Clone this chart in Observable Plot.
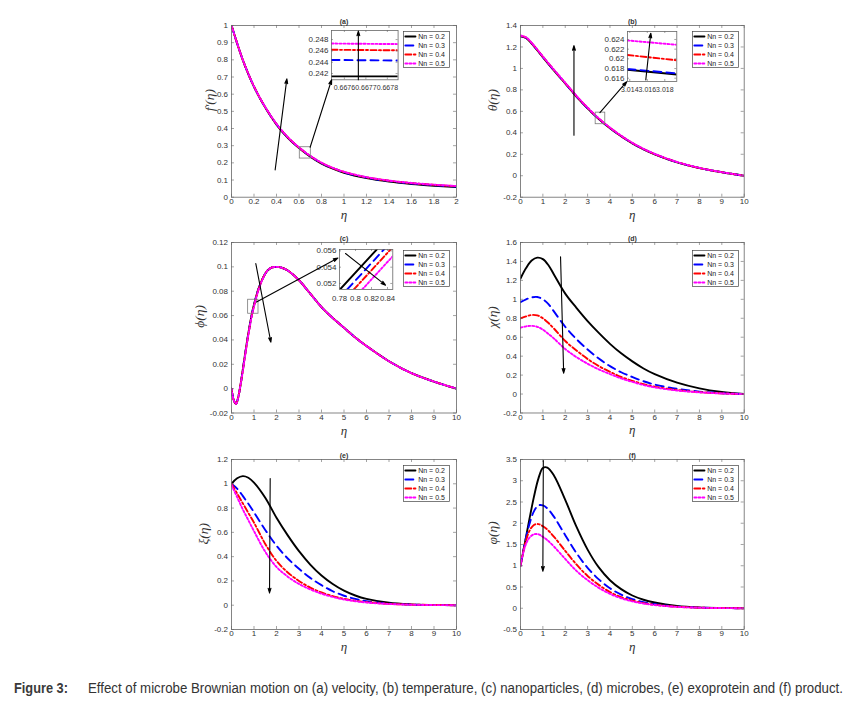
<!DOCTYPE html>
<html><head><meta charset="utf-8">
<script src="https://cdn.jsdelivr.net/npm/d3@7"></script>
<script src="https://cdn.jsdelivr.net/npm/@observablehq/plot@0.6"></script>
<style>
body{margin:0;background:#fff;}
#root{position:relative;width:851px;height:707px;overflow:hidden;background:#fff;}
.cap{position:absolute;white-space:nowrap;font-family:'Liberation Sans',Arial,sans-serif;font-size:14px;color:#333;transform-origin:0 0;line-height:16px;}
</style></head><body><div id="root">
<div class="cap" id="cap1" style="left:14px;top:680px;font-weight:bold;color:#3a3a3a;">Figure 3:</div>
<div class="cap" id="cap2" style="left:88px;top:680px;">Effect of microbe Brownian motion on (a) velocity, (b) temperature, (c) nanoparticles, (d) microbes, (e) exoprotein and (f) product.</div>
</div>
<script>
// ---------- labels ----------
const NN = ["Nn = 0.2", "Nn = 0.3", "Nn = 0.4", "Nn = 0.5"];
const COLORS = ["#000000", "#0000ff", "#ff0000", "#ff00ff"];
const DASH = [undefined, "8,5", "6,2.5,2,2.5", "2,2"];

// ---------- tick values ----------
const xTicksA = [0,0.2,0.4,0.6,0.8,1,1.2,1.4,1.6,1.8,2];
const xTicks10 = [0,1,2,3,4,5,6,7,8,9,10];
const yTicksA = [0,0.1,0.2,0.3,0.4,0.5,0.6,0.7,0.8,0.9,1];
const yTicksB = [-0.2,0,0.2,0.4,0.6,0.8,1,1.2,1.4];
const yTicksC = [-0.02,0,0.02,0.04,0.06,0.08,0.1,0.12];
const yTicksD = [-0.2,0,0.2,0.4,0.6,0.8,1,1.2,1.4,1.6];
const yTicksE = [-0.2,0,0.2,0.4,0.6,0.8,1,1.2];
const yTicksF = [-0.5,0,0.5,1,1.5,2,2.5,3,3.5];
const insTicksAx = [0.6676,0.6677,0.6678];
const insTicksAy = [0.242,0.244,0.246,0.248];
const insTicksBx = [3.014,3.016,3.018];
const insTicksBy = [0.616,0.618,0.62,0.622,0.624];
const insTicksCx = [0.78,0.8,0.82,0.84];
const insTicksCy = [0.052,0.054,0.056];

// ---------- (a) velocity f'(eta) ----------
const etaA = [0,0.1,0.2,0.3,0.4,0.5,0.6,0.7,0.8,0.9,1.0,1.2,1.4,1.6,1.8,2.0];
const fA_02 = [1,0.800,0.643,0.522,0.423,0.346,0.286,0.236,0.196,0.166,0.142,0.111,0.091,0.077,0.067,0.059];
const fA_03 = [1,0.800,0.644,0.523,0.425,0.348,0.288,0.239,0.199,0.169,0.145,0.114,0.094,0.080,0.070,0.062];
const fA_04 = [1,0.800,0.645,0.524,0.426,0.349,0.289,0.240,0.200,0.170,0.147,0.116,0.096,0.082,0.072,0.064];
const fA_05 = [1,0.801,0.645,0.525,0.427,0.350,0.290,0.241,0.201,0.171,0.148,0.117,0.097,0.083,0.073,0.065];
const insA_x = [0.66754,0.66785];
const insA_02 = [0.2415,0.2415];
const insA_03 = [0.2444,0.2443];
const insA_04 = [0.2462,0.2461];
const insA_05 = [0.2473,0.2472];

// ---------- (b) temperature theta(eta) ----------
const etaB = [0,0.25,0.5,1,1.5,2,2.5,3,3.5,4,4.5,5,5.5,6,7,8,9,10];
const thB_02 = [1.300,1.283,1.232,1.105,0.980,0.860,0.738,0.628,0.528,0.443,0.368,0.302,0.246,0.200,0.125,0.071,0.032,0];
const thB_03 = [1.301,1.284,1.233,1.106,0.981,0.861,0.739,0.629,0.529,0.444,0.369,0.303,0.247,0.201,0.126,0.072,0.033,0];
const thB_04 = [1.304,1.287,1.236,1.109,0.984,0.864,0.742,0.632,0.532,0.446,0.371,0.305,0.249,0.202,0.127,0.072,0.033,0];
const thB_05 = [1.307,1.290,1.239,1.112,0.987,0.867,0.745,0.635,0.535,0.449,0.373,0.307,0.251,0.204,0.128,0.073,0.033,0];
const insB_x = [3.01374,3.01937];
const insB_02 = [0.61774,0.61677];
const insB_03 = [0.6179,0.6170];
const insB_04 = [0.6208,0.6197];
const insB_05 = [0.6238,0.6229];

// ---------- (c) nanoparticles phi(eta) ----------
const etaC = [0,0.1,0.2,0.3,0.4,0.5,0.6,0.7,0.8,0.9,1.0,1.2,1.4,1.6,1.8,2.0,2.2,2.5,3,3.5,4,4.5,5,5.5,6,7,8,9,10];
const phC_02 = [0,-0.0095,-0.0125,-0.007,0.003,0.0155,0.028,0.040,0.051,0.061,0.069,0.082,0.091,0.097,0.0995,0.1,0.0995,0.097,0.089,0.078,0.067,0.058,0.050,0.042,0.035,0.0225,0.0127,0.0058,0];
const phC_03 = [0,-0.0095,-0.0125,-0.007,0.003,0.0150,0.0275,0.0395,0.0505,0.0605,0.0685,0.082,0.091,0.097,0.0995,0.1,0.0995,0.097,0.089,0.078,0.067,0.058,0.050,0.042,0.035,0.0225,0.0127,0.0058,0];
const phC_04 = [0,-0.0095,-0.0125,-0.007,0.003,0.0145,0.027,0.039,0.050,0.060,0.068,0.0815,0.091,0.097,0.0995,0.1,0.0995,0.097,0.089,0.078,0.067,0.058,0.050,0.042,0.035,0.0225,0.0127,0.0058,0];
const phC_05 = [0,-0.0095,-0.0125,-0.007,0.003,0.0140,0.0265,0.0385,0.0495,0.0595,0.0675,0.081,0.0905,0.097,0.0995,0.1,0.0995,0.097,0.089,0.078,0.067,0.058,0.050,0.042,0.035,0.0225,0.0127,0.0058,0];
const insC_y = [0.05126,0.05617];
const insC_x02 = [0.7806,0.8265];
const insC_x03 = [0.7896,0.8355];
const insC_x04 = [0.7979,0.8438];
const insC_x05 = [0.8084,0.8543];

// ---------- (d) microbes chi(eta) ----------
const etaD = [0,0.25,0.5,0.75,1,1.25,1.5,2,2.5,3,3.5,4,4.5,5,5.5,6,7,8,9,10];
const chD_02 = [1.22,1.33,1.41,1.44,1.425,1.36,1.26,1.06,0.91,0.77,0.645,0.53,0.43,0.345,0.27,0.21,0.12,0.06,0.022,0];
const chD_03 = [0.97,1.0,1.02,1.025,1.0,0.95,0.87,0.71,0.58,0.47,0.375,0.295,0.23,0.18,0.135,0.1,0.055,0.026,0.009,0];
const chD_04 = [0.8,0.82,0.835,0.83,0.8,0.75,0.69,0.56,0.46,0.37,0.295,0.235,0.18,0.14,0.105,0.078,0.042,0.02,0.007,0];
const chD_05 = [0.70,0.715,0.72,0.71,0.68,0.635,0.585,0.475,0.39,0.32,0.26,0.21,0.165,0.128,0.095,0.07,0.037,0.018,0.006,0];

// ---------- (e) exoprotein xi(eta) ----------
const etaE = [0,0.25,0.5,0.75,1,1.5,2,2.5,3,3.5,4,4.5,5,5.5,6,7,8,9,10];
const xiE_02 = [1.0,1.045,1.063,1.05,1.01,0.885,0.72,0.575,0.445,0.335,0.245,0.175,0.12,0.08,0.052,0.02,0.007,0.002,0];
const xiE_03 = [1.0,0.96,0.9,0.835,0.765,0.62,0.49,0.385,0.3,0.225,0.165,0.115,0.078,0.052,0.033,0.013,0.005,0.002,0];
const xiE_04 = [1.0,0.92,0.84,0.76,0.68,0.505,0.365,0.27,0.2,0.145,0.105,0.075,0.052,0.036,0.025,0.011,0.005,0.002,0];
const xiE_05 = [0.99,0.89,0.79,0.7,0.61,0.44,0.315,0.235,0.175,0.13,0.095,0.068,0.047,0.033,0.022,0.01,0.004,0.001,0];

// ---------- (f) product varphi(eta) ----------
const etaF = [0,0.2,0.4,0.6,0.8,1.0,1.2,1.5,2,2.5,3,3.5,4,4.5,5,5.5,6,7,8,9,10];
const vpF_02 = [1.0,1.55,2.1,2.62,3.05,3.3,3.31,3.12,2.55,1.92,1.38,0.96,0.66,0.45,0.3,0.2,0.135,0.055,0.02,0.007,0];
const vpF_03 = [1.0,1.55,1.98,2.28,2.42,2.42,2.35,2.15,1.72,1.3,0.95,0.68,0.47,0.32,0.215,0.145,0.095,0.04,0.015,0.005,0];
const vpF_04 = [1.0,1.5,1.82,1.96,1.98,1.93,1.85,1.68,1.35,1.03,0.76,0.55,0.38,0.26,0.18,0.12,0.08,0.035,0.013,0.004,0];
const vpF_05 = [1.0,1.45,1.66,1.74,1.74,1.68,1.6,1.45,1.16,0.88,0.66,0.48,0.34,0.235,0.16,0.11,0.075,0.032,0.012,0.004,0];

// ---------- annotations (data coordinates) ----------
const rectA = {x1:0.607,x2:0.705,y1:0.225,y2:0.291};
const rectB = {x1:3.36,x2:3.79,y1:0.48,y2:0.588};
const rectC = {x1:0.74,x2:1.2,y1:0.0615,y2:0.073};
const arrowsA = [{x1:0.388,y1:0.159,x2:0.492,y2:0.689},{x1:0.699,y1:0.291,x2:0.89,y2:0.684}];
const arrowsB = [{x1:2.39,y1:0.378,x2:2.39,y2:1.212},{x1:3.55,y1:0.588,x2:4.75,y2:0.876}];
const arrowsC = [{x1:1.08,y1:0.1027,x2:1.75,y2:0.0381},{x1:1.11,y1:0.0711,x2:4.73,y2:0.1073}];
const arrowsD = [{x1:1.79,y1:1.449,x2:1.93,y2:0.221}];
const arrowsE = [{x1:1.72,y1:1.043,x2:1.69,y2:0.101}];
const arrowsF = [{x1:1.02,y1:3.476,x2:1.0,y2:0.873}];
const insArrowA = [{x1:0.667665,y1:0.2409,x2:0.667665,y2:0.2495}];
const insArrowB = [{x1:3.01583,y1:0.61565,x2:3.0164,y2:0.6253}];
const insArrowC = [{x1:0.7875,y1:0.05568,x2:0.8375,y2:0.05179}];

// ---------- drawing ----------
const root = document.getElementById("root");
const FONT = "'Liberation Sans', Arial, Helvetica, sans-serif";
const SERIF = "'Liberation Serif', 'Times New Roman', serif";
const AX = "#333";
const FRAME = "#666";
const fmt = d => String(d);
const ARROW_STYLE = {x1: "x1", y1: "y1", x2: "x2", y2: "y2", stroke: "#000", fill: "#000", strokeWidth: 1.1, headLength: 6.5, headAngle: 34};

function place(svg, left, top) {
  svg.style.position = "absolute";
  svg.style.left = left + "px";
  svg.style.top = top + "px";
  root.appendChild(svg);
}
function tickMarks(xt, yt, fw, fh, len, color) {
  return [
    Plot.ruleX(xt, {x: d => d, insetTop: fh - len, stroke: color, strokeWidth: 0.6}),
    Plot.ruleX(xt, {x: d => d, insetBottom: fh - len, stroke: color, strokeWidth: 0.6}),
    Plot.ruleY(yt, {y: d => d, insetRight: fw - len, stroke: color, strokeWidth: 0.6}),
    Plot.ruleY(yt, {y: d => d, insetLeft: fw - len, stroke: color, strokeWidth: 0.6})
  ];
}
function seriesLines(xs, list, width) {
  return list.map((s, i) => Plot.line(xs.map((e, j) => ({x: e, y: s[j]})), {
    x: "x", y: "y", stroke: COLORS[i], strokeWidth: width, strokeDasharray: DASH[i],
    curve: "catmull-rom", clip: true
  }));
}

const ML = 50, MR = 12, MT = 16, MB = 32;
function mainPanel(p) {
  const marks = [];
  marks.push(...seriesLines(p.eta, p.series, 1.9));
  if (p.rect) marks.push(Plot.rect([p.rect], {x1: "x1", x2: "x2", y1: "y1", y2: "y2", fill: "none", stroke: "#7a7a7a", strokeWidth: 0.8}));
  marks.push(...tickMarks(p.xt, p.yt, p.fw, p.fh, 3, FRAME));
  marks.push(Plot.frame({stroke: FRAME, strokeWidth: 0.8}));
  marks.push(Plot.axisX(p.xt, {anchor: "bottom", tickSize: 0, tickPadding: 1, tickFormat: fmt, label: null, fontFamily: FONT}));
  marks.push(Plot.axisY(p.yt, {anchor: "left", tickSize: 0, tickPadding: 3.5, tickFormat: fmt, label: null, fontFamily: FONT}));
  marks.push(Plot.text([p.title], {text: d => d, frameAnchor: "top", dy: -6.5, fontWeight: "bold", fontSize: 7, fontFamily: FONT}));
  marks.push(Plot.text(["η"], {text: d => d, frameAnchor: "bottom", dy: 21.5, fontFamily: SERIF, fontStyle: "italic", fontSize: 13}));
  marks.push(Plot.text([p.ylab], {text: d => d, frameAnchor: "left", dx: -p.ylabDx, rotate: -90, fontFamily: SERIF, fontStyle: "italic", fontSize: 13.5}));
  const svg = Plot.plot({
    width: ML + p.fw + MR, height: MT + p.fh + MB,
    marginLeft: ML, marginRight: MR, marginTop: MT, marginBottom: MB,
    x: {domain: p.xd}, y: {domain: p.yd},
    style: {background: "transparent", color: AX, fontFamily: FONT, fontSize: "8px", overflow: "visible"},
    marks
  });
  place(svg, p.fx - ML, p.fy - MT);
}
function arrowLayer(p, arrows) {
  const svg = Plot.plot({
    width: ML + p.fw + MR, height: MT + p.fh + MB,
    marginLeft: ML, marginRight: MR, marginTop: MT, marginBottom: MB,
    x: {domain: p.xd, axis: null}, y: {domain: p.yd, axis: null},
    style: {background: "transparent", overflow: "visible"},
    marks: [Plot.arrow(arrows, ARROW_STYLE)]
  });
  place(svg, p.fx - ML, p.fy - MT);
}
const IML = 40, IMR = 8, IMT = 6, IMB = 20;
function insetPanel(q) {
  const marks = [Plot.frame({fill: "white"})];
  q.lines.forEach((ln, i) => {
    marks.push(Plot.line(ln.x.map((e, j) => ({x: e, y: ln.y[j]})), {
      x: "x", y: "y", stroke: COLORS[i], strokeWidth: 1.9, strokeDasharray: DASH[i], clip: true
    }));
  });
  marks.push(...tickMarks(q.xt, q.yt, q.fw, q.fh, 2, FRAME));
  marks.push(Plot.frame({stroke: FRAME, strokeWidth: 0.8}));
  marks.push(Plot.axisX(q.xt, {anchor: "bottom", tickSize: 0, tickPadding: 5.5, tickFormat: fmt, label: null, fontSize: q.xfs, fontFamily: FONT}));
  marks.push(Plot.axisY(q.yt, {anchor: "left", tickSize: 0, tickPadding: 3, tickFormat: fmt, label: null, fontFamily: FONT}));
  if (q.arrows) marks.push(Plot.arrow(q.arrows, ARROW_STYLE));
  const svg = Plot.plot({
    width: IML + q.fw + IMR, height: IMT + q.fh + IMB,
    marginLeft: IML, marginRight: IMR, marginTop: IMT, marginBottom: IMB,
    x: {domain: q.xd}, y: {domain: q.yd},
    style: {background: "transparent", color: AX, fontFamily: FONT, fontSize: "8px", overflow: "visible"},
    marks
  });
  place(svg, q.fx - IML, q.fy - IMT);
}
function legendBox(left, top) {
  const marks = [Plot.frame({fill: "white", stroke: "#444", strokeWidth: 0.7})];
  NN.forEach((n, i) => {
    marks.push(Plot.line([{x: 0.04, y: n}, {x: 0.26, y: n}], {x: "x", y: "y", stroke: COLORS[i], strokeWidth: 1.9, strokeDasharray: DASH[i]}));
  });
  marks.push(Plot.text(NN, {x: 0.32, y: d => d, text: d => d, textAnchor: "start", fontSize: 7, fill: "#222", fontFamily: FONT}));
  const svg = Plot.plot({
    width: 46, height: 36, margin: 0,
    x: {domain: [0, 1], axis: null},
    y: {type: "point", domain: NN, padding: 0.45, axis: null},
    style: {background: "transparent", fontFamily: FONT, overflow: "visible"},
    marks
  });
  place(svg, left, top);
}

const C1 = 230.7, C2 = 520.3, W1 = 225, W2 = 223.7;
const R1 = 25, R2 = 242.3, R3 = 458.5, H1 = 171.7, H2 = 170.5, H3 = 170;

const pA = {fx: C1, fy: R1, fw: W1, fh: H1, xd: [0, 2], yd: [0, 1], xt: xTicksA, yt: yTicksA, eta: etaA, series: [fA_02, fA_03, fA_04, fA_05], title: "(a)", ylab: "f′(η)", ylabDx: 21.5, rect: rectA};
const pB = {fx: C2, fy: R1, fw: W2, fh: H1, xd: [0, 10], yd: [-0.2, 1.4], xt: xTicks10, yt: yTicksB, eta: etaB, series: [thB_02, thB_03, thB_04, thB_05], title: "(b)", ylab: "θ(η)", ylabDx: 28, rect: rectB};
const pC = {fx: C1, fy: R2, fw: W1, fh: H2, xd: [0, 10], yd: [-0.02, 0.12], xt: xTicks10, yt: yTicksC, eta: etaC, series: [phC_02, phC_03, phC_04, phC_05], title: "(c)", ylab: "ϕ(η)", ylabDx: 31.5, rect: rectC};
const pD = {fx: C2, fy: R2, fw: W2, fh: H2, xd: [0, 10], yd: [-0.2, 1.6], xt: xTicks10, yt: yTicksD, eta: etaD, series: [chD_02, chD_03, chD_04, chD_05], title: "(d)", ylab: "χ(η)", ylabDx: 28};
const pE = {fx: C1, fy: R3, fw: W1, fh: H3, xd: [0, 10], yd: [-0.2, 1.2], xt: xTicks10, yt: yTicksE, eta: etaE, series: [xiE_02, xiE_03, xiE_04, xiE_05], title: "(e)", ylab: "ξ(η)", ylabDx: 28};
const pF = {fx: C2, fy: R3, fw: W2, fh: H3, xd: [0, 10], yd: [-0.5, 3.5], xt: xTicks10, yt: yTicksF, eta: etaF, series: [vpF_02, vpF_03, vpF_04, vpF_05], title: "(f)", ylab: "φ(η)", ylabDx: 28};

[pA, pB, pC, pD, pE, pF].forEach(mainPanel);

insetPanel({fx: 330.7, fy: 30, fw: 66.6, fh: 49.3, xd: [0.66754, 0.66785], yd: [0.2409, 0.2496], xt: insTicksAx, yt: insTicksAy, xfs: 7,
  lines: [{x: insA_x, y: insA_02}, {x: insA_x, y: insA_03}, {x: insA_x, y: insA_04}, {x: insA_x, y: insA_05}], arrows: insArrowA});
insetPanel({fx: 626.7, fy: 31, fw: 49.3, fh: 50, xd: [3.01374, 3.01937], yd: [0.61532, 0.62565], xt: insTicksBx, yt: insTicksBy, xfs: 7,
  lines: [{x: insB_x, y: insB_02}, {x: insB_x, y: insB_03}, {x: insB_x, y: insB_04}, {x: insB_x, y: insB_05}], arrows: insArrowB});
insetPanel({fx: 339, fy: 249.3, fw: 53.3, fh: 40, xd: [0.78, 0.8466], yd: [0.05126, 0.05617], xt: insTicksCx, yt: insTicksCy, xfs: 7.8,
  lines: [{x: insC_x02, y: insC_y}, {x: insC_x03, y: insC_y}, {x: insC_x04, y: insC_y}, {x: insC_x05, y: insC_y}], arrows: insArrowC});

arrowLayer(pA, arrowsA);
arrowLayer(pB, arrowsB);
arrowLayer(pC, arrowsC);
arrowLayer(pD, arrowsD);
arrowLayer(pE, arrowsE);
arrowLayer(pF, arrowsF);

legendBox(403, 31);
legendBox(692, 31);
legendBox(402.5, 250);
legendBox(692, 250);
legendBox(403, 465);
legendBox(692, 465);

// caption fitting
function fit(id, w) {
  const el = document.getElementById(id);
  const r = el.getBoundingClientRect().width;
  if (r > 0) el.style.transform = `scaleX(${w / r})`;
}
fit("cap1", 54);
fit("cap2", 755);
</script></body></html>
